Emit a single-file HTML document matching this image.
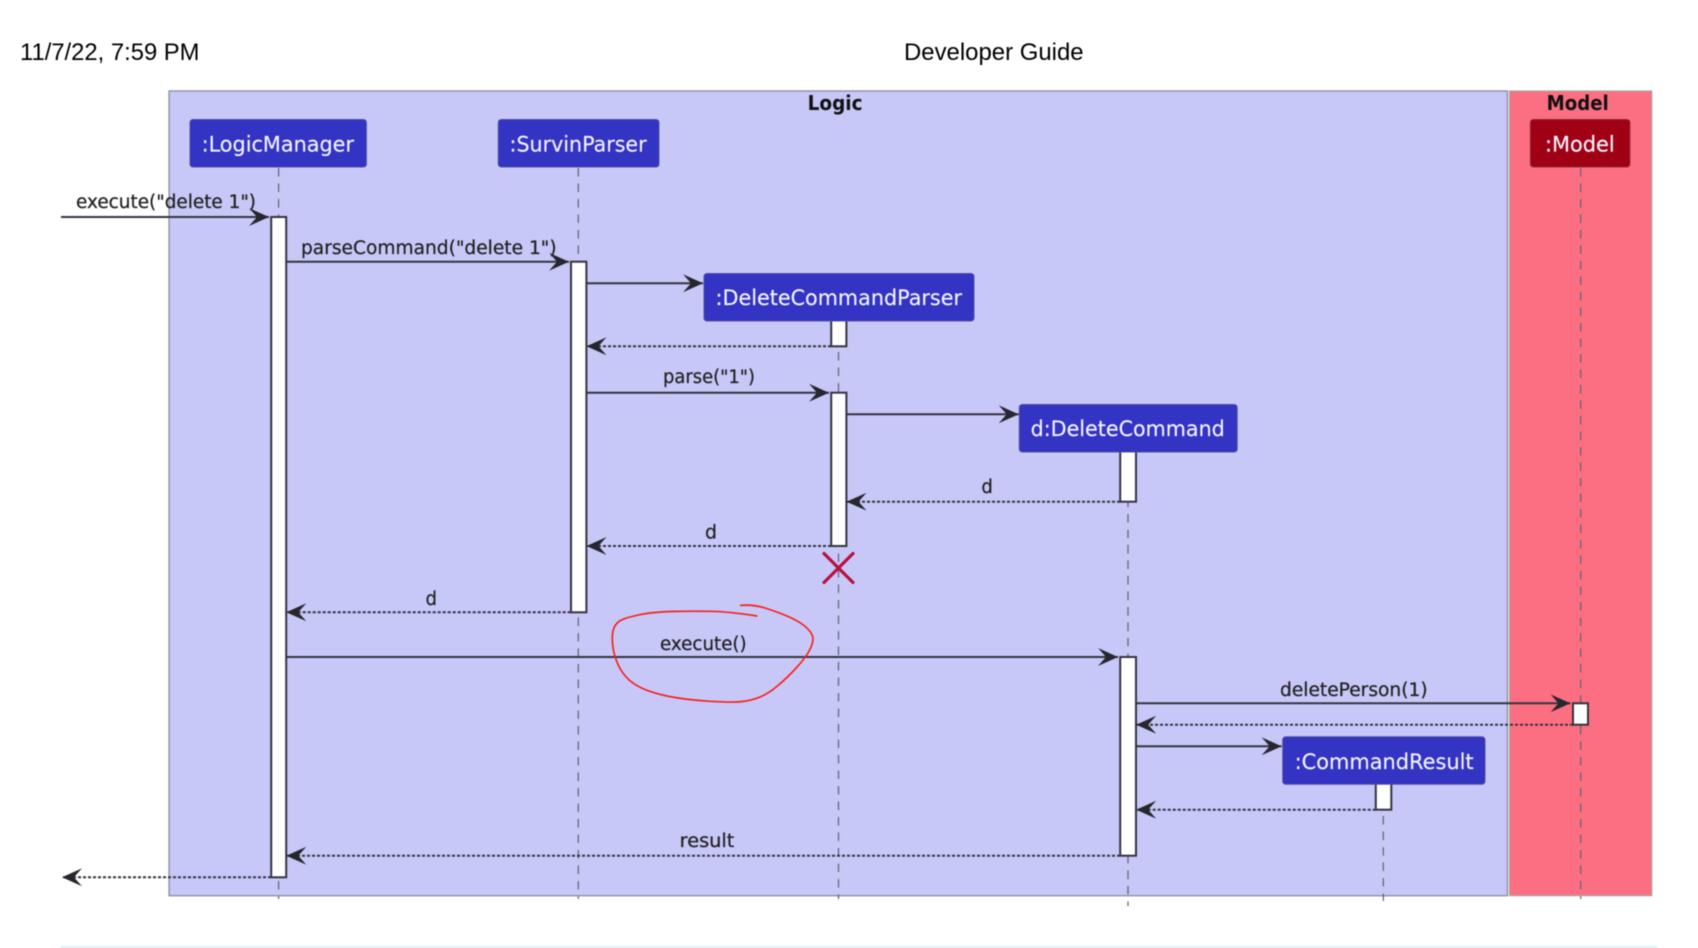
<!DOCTYPE html>
<html><head><meta charset="utf-8"><style>
html,body{margin:0;padding:0;background:#fff;width:1698px;height:948px;overflow:hidden}
svg{display:block;filter:blur(.45px)}
.h{font-family:"Liberation Sans",sans-serif;font-size:23.6px;fill:#000}
.p{font-family:"DejaVu Sans",sans-serif;font-size:21px;fill:#f2f2ff;stroke:#f2f2ff;stroke-width:.15}
.m{font-family:"DejaVu Sans",sans-serif;font-size:18.5px;fill:#222;stroke:#222;stroke-width:.25}
.b{font-family:"DejaVu Sans",sans-serif;font-size:20px;font-weight:bold;fill:#111}
.ll{stroke:#666678;stroke-width:1.3;stroke-dasharray:8.5 7;fill:none}
.s{stroke:#333340;stroke-width:2;fill:none;marker-end:url(#a)}
.r{stroke:#333340;stroke-width:2;stroke-dasharray:3 2;fill:none;marker-end:url(#a)}
.act{fill:#fff;stroke:#333340;stroke-width:2}
.pb{fill:#3333c4;stroke:#50509c;stroke-width:1}
</style></head><body>
<svg width="1698" height="948" viewBox="0 0 1698 948" xmlns="http://www.w3.org/2000/svg">
<defs>
<marker id="a" markerUnits="userSpaceOnUse" markerWidth="22" markerHeight="20" refX="20" refY="10" orient="auto"><path d="M0 1L20 10L0 19L8 10Z" fill="#26262e"/></marker>
</defs>
<rect width="1698" height="948" fill="#fff"/>
<text class="h" x="20" y="60" textLength="179.5" lengthAdjust="spacingAndGlyphs">11/7/22, 7:59 PM</text>
<text class="h" x="904" y="60" textLength="179.6" lengthAdjust="spacingAndGlyphs">Developer Guide</text>

<rect x="169.1" y="91" width="1338.3" height="804.7" fill="#c8c8f8" stroke="#8f8fa0" stroke-width="1.4"/>
<rect x="1509.5" y="91" width="142.3" height="804.7" fill="#fc6f82" stroke="#a8a8a8" stroke-width="1.2"/>
<text class="b" x="807.6" y="110" textLength="55" lengthAdjust="spacingAndGlyphs">Logic</text>
<text class="b" x="1546.6" y="110" textLength="62.2" lengthAdjust="spacingAndGlyphs">Model</text>

<line class="ll" x1="278.6" y1="168" x2="278.6" y2="899"/>
<line class="ll" x1="578.3" y1="168" x2="578.3" y2="899"/>
<line class="ll" x1="838.5" y1="321" x2="838.5" y2="899"/>
<line class="ll" x1="1128" y1="452" x2="1128" y2="906"/>
<line class="ll" x1="1383.3" y1="785" x2="1383.3" y2="901"/>
<line class="ll" x1="1580.7" y1="168" x2="1580.7" y2="899"/>

<rect class="act" x="271.2" y="217" width="15" height="660.3"/>
<rect class="act" x="571" y="261.7" width="15.4" height="350.6"/>
<rect class="act" x="831.2" y="316" width="15.2" height="30.3"/>
<rect class="act" x="831.2" y="392.7" width="15.2" height="153.3"/>
<rect class="act" x="1120.2" y="447" width="15.8" height="54.7"/>
<rect class="act" x="1120.2" y="657" width="15.8" height="198.7"/>
<rect class="act" x="1573" y="703.3" width="15" height="21.4"/>
<rect class="act" x="1375.8" y="779" width="15.5" height="30.7"/>

<rect class="pb" x="190" y="119.5" width="176.4" height="47.5" rx="3"/>
<rect class="pb" x="498.3" y="119.5" width="160.7" height="47.5" rx="3"/>
<rect class="pb" x="704" y="273.5" width="270" height="47.5" rx="3"/>
<rect class="pb" x="1019.3" y="404.5" width="217.9" height="47.5" rx="3"/>
<rect class="pb" x="1282.7" y="736.8" width="202.3" height="47.5" rx="3"/>
<rect x="1530.4" y="119.5" width="99.5" height="47.5" rx="3" fill="#a00013" stroke="#8a2b3a" stroke-width="1"/>
<text class="p" x="201.6" y="151.7" textLength="152.4" lengthAdjust="spacingAndGlyphs">:LogicManager</text>
<text class="p" x="509.5" y="151.7" textLength="137.1" lengthAdjust="spacingAndGlyphs">:SurvinParser</text>
<text class="p" x="715.5" y="305" textLength="246.5" lengthAdjust="spacingAndGlyphs">:DeleteCommandParser</text>
<text class="p" x="1030.6" y="436" textLength="194.2" lengthAdjust="spacingAndGlyphs">d:DeleteCommand</text>
<text class="p" x="1294.6" y="769" textLength="179" lengthAdjust="spacingAndGlyphs">:CommandResult</text>
<text class="p" x="1545" y="151.7" textLength="69.7" lengthAdjust="spacingAndGlyphs">:Model</text>

<line class="s" x1="61" y1="217" x2="269" y2="217"/>
<line class="s" x1="286" y1="261.7" x2="569" y2="261.7"/>
<line class="s" x1="586.5" y1="283.3" x2="703" y2="283.3"/>
<line class="r" x1="831" y1="346.3" x2="586.5" y2="346.3"/>
<line class="s" x1="586.5" y1="392.7" x2="829" y2="392.7"/>
<line class="s" x1="846.6" y1="414.3" x2="1018.7" y2="414.3"/>
<line class="r" x1="1120" y1="501.7" x2="846.6" y2="501.7"/>
<line class="r" x1="831" y1="546" x2="586.5" y2="546"/>
<line class="r" x1="570.7" y1="612.3" x2="286.3" y2="612.3"/>
<line class="s" x1="286" y1="657" x2="1118" y2="657"/>
<line class="s" x1="1136" y1="703.3" x2="1570.4" y2="703.3"/>
<line class="r" x1="1573" y1="724.7" x2="1136.2" y2="724.7"/>
<line class="s" x1="1136" y1="746.3" x2="1281.6" y2="746.3"/>
<line class="r" x1="1375.7" y1="809.7" x2="1136.2" y2="809.7"/>
<line class="r" x1="1120" y1="855.7" x2="286.3" y2="855.7"/>
<line class="r" x1="271" y1="877.3" x2="62" y2="877.3"/>

<text class="m" x="76" y="208" textLength="180" lengthAdjust="spacingAndGlyphs">execute("delete 1")</text>
<text class="m" x="301" y="254" textLength="255.6" lengthAdjust="spacingAndGlyphs">parseCommand("delete 1")</text>
<text class="m" x="663" y="383" textLength="92" lengthAdjust="spacingAndGlyphs">parse("1")</text>
<text class="m" x="981.4" y="492.8" textLength="11.4" lengthAdjust="spacingAndGlyphs">d</text>
<text class="m" x="705" y="538.5" textLength="12" lengthAdjust="spacingAndGlyphs">d</text>
<text class="m" x="425.5" y="605.2" textLength="11.5" lengthAdjust="spacingAndGlyphs">d</text>
<text class="m" x="660" y="650" textLength="86.7" lengthAdjust="spacingAndGlyphs">execute()</text>
<text class="m" x="1280" y="695.8" textLength="147.6" lengthAdjust="spacingAndGlyphs">deletePerson(1)</text>
<text class="m" x="679.7" y="846.8" textLength="54.7" lengthAdjust="spacingAndGlyphs">result</text>

<path d="M824 553.5L853 582.5M853 553.5L824 582.5" stroke="#b8103e" stroke-width="3.2" stroke-linecap="round" fill="none"/>
<g transform="translate(580 590) scale(.33333)">
<path d="M530 78Q450 65 390 64Q330 63 275 64.5Q220 66 185 73Q150 80 130 87.5Q110 95 102.5 112.5Q95 130 97.5 160Q100 190 112.5 220Q125 250 147.5 270Q170 290 205 302.5Q240 315 285 322.5Q330 330 385 333.5Q440 337 470 336Q500 335 530 325Q560 315 590 290Q620 265 650 232.5Q680 200 691.5 175Q703 150 696.5 135Q690 120 670 105Q650 90 620 77.5Q590 65 555 54Q520 43 482 46" fill="none" stroke="#f5221b" stroke-width="5" stroke-linecap="round"/>
</g>
<line x1="61" y1="947" x2="1657.5" y2="947" stroke="#d5eef0" stroke-width="1.5"/>
</svg>
</body></html>
